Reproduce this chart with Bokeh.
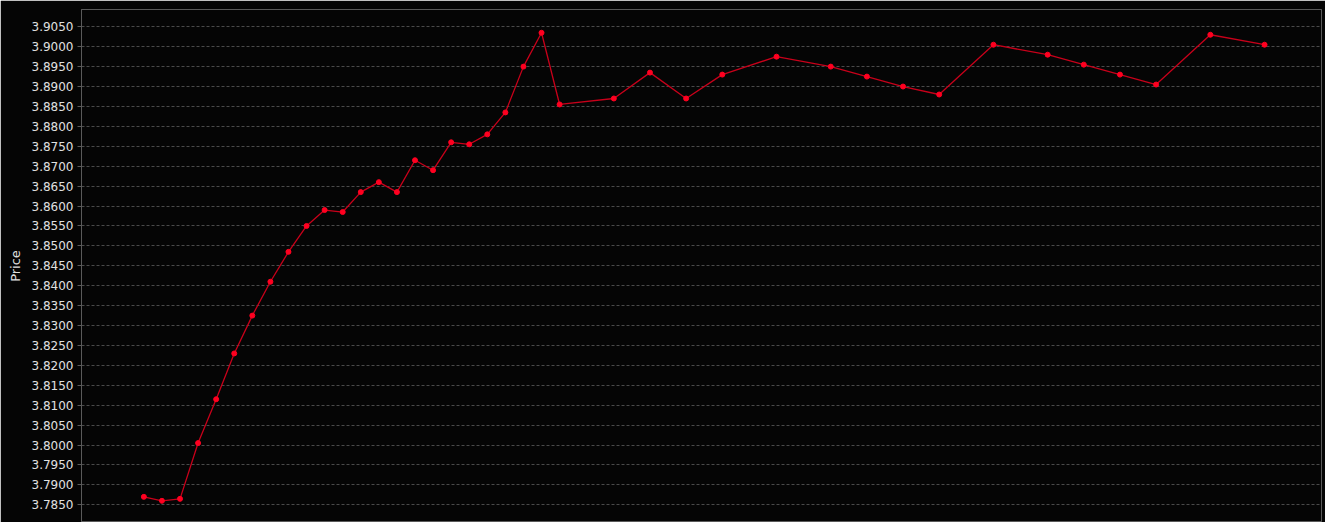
from bokeh.plotting import figure
from bokeh.models import FixedTicker, PrintfTickFormatter, Range1d
from bokeh.embed import file_html
from bokeh.resources import INLINE

# Day index of each observation
day = [0, 1, 2, 3, 4, 5, 6, 7, 8, 9, 10, 11, 12, 13, 14, 15, 16, 17, 18, 19,
       20, 21, 22, 23, 26, 28, 30, 32, 35, 38, 40, 42, 44, 47, 50, 52, 54, 56,
       59, 62]
# Price values
price = [3.7870, 3.7860, 3.7865, 3.8005, 3.8115, 3.8230, 3.8325, 3.8410,
         3.8485, 3.8550, 3.8590, 3.8585, 3.8635, 3.8660, 3.8635, 3.8715,
         3.8690, 3.8760, 3.8755, 3.8780, 3.8835, 3.8950, 3.9035, 3.8855,
         3.8870, 3.8935, 3.8870, 3.8930, 3.8975, 3.8950, 3.8925, 3.8900,
         3.8880, 3.9005, 3.8980, 3.8955, 3.8930, 3.8905, 3.9030, 3.9005]
# Y tick values
y_ticks = [3.7850 + 0.005 * i for i in range(25)]

BG = "#050505"
FRAME = "#5a5a5a"
TEXT = "#e0e0e0"

p = figure(width=1325, height=522, output_backend="svg", toolbar_location=None,
           x_axis_location=None,
           x_range=Range1d(-3.45, 65.15), y_range=Range1d(3.78056, 3.90934),
           min_border_left=81, min_border_top=9, min_border_bottom=0,
           min_border_right=4)
p.background_fill_color = BG
p.border_fill_color = BG
p.outline_line_color = FRAME
p.outline_line_width = 1

p.xgrid.visible = False
p.ygrid.grid_line_color = "#4a4a4a"
p.ygrid.grid_line_dash = "3 2"
p.ygrid.grid_line_width = 1

ax = p.yaxis[0]
ax.ticker = FixedTicker(ticks=y_ticks)
ax.formatter = PrintfTickFormatter(format="%.4f")
ax.axis_line_color = FRAME
ax.major_tick_line_color = FRAME
ax.major_tick_out = 4
ax.major_tick_in = 0
ax.minor_tick_line_color = None
ax.major_label_standoff = 4
ax.major_label_text_color = TEXT
ax.major_label_text_font = "DejaVu Sans"
ax.major_label_text_font_size = "12px"
ax.axis_label = "Price"
ax.axis_label_text_color = TEXT
ax.axis_label_text_font = "DejaVu Sans"
ax.axis_label_text_font_size = "13px"
ax.axis_label_text_font_style = "normal"
ax.axis_label_standoff = 6

p.line(day, price, line_color="#c8001a", line_width=1.3)
p.scatter(day, price, size=5, fill_color="#ff0020", line_color="#ff0020")

open("out.html", "w").write(file_html(p, INLINE))
